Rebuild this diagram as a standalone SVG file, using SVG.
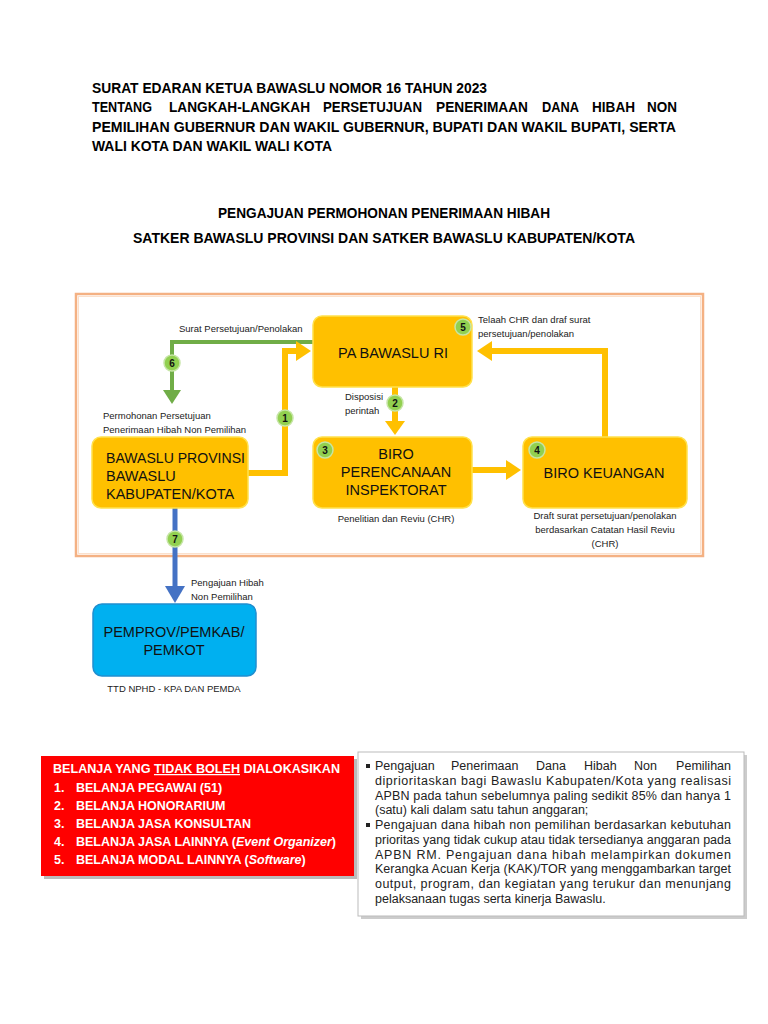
<svg xmlns="http://www.w3.org/2000/svg" width="768" height="1024" viewBox="0 0 768 1024">
<style>
.tb{font-family:"Liberation Sans",Arial,sans-serif;font-weight:bold;font-size:14px;fill:#000}
.lbl{font-family:"Liberation Sans",Arial,sans-serif;font-size:9.5px;fill:#222}
.node{fill:#FFC000;stroke:#FFE14D;stroke-width:1.5}
.nt{font-family:"Liberation Sans",Arial,sans-serif;font-size:14.5px;fill:#111}
.num{fill:#92D050;stroke:#C6E5A6;stroke-width:1.5}
.nn{font-family:"Liberation Sans",Arial,sans-serif;font-size:10px;font-weight:bold;fill:#111;text-anchor:middle}
.org{fill:none;stroke:#FFC000;stroke-width:6}
.rw{font-family:"Liberation Sans",Arial,sans-serif;font-size:12.5px;font-weight:bold;fill:#fff}
.bt{font-family:"Liberation Sans",Arial,sans-serif;font-size:12.5px;fill:#222}
</style>
<rect width="768" height="1024" fill="#fff"/>
<g id="title">
<text class="tb" x="92" y="93" textLength="395" lengthAdjust="spacingAndGlyphs">SURAT EDARAN KETUA BAWASLU NOMOR 16 TAHUN 2023</text>
<text class="tb" x="92" y="112" textLength="60" lengthAdjust="spacingAndGlyphs">TENTANG</text>
<text class="tb" x="169" y="112" textLength="141" lengthAdjust="spacingAndGlyphs">LANGKAH-LANGKAH</text>
<text class="tb" x="323" y="112" textLength="99" lengthAdjust="spacingAndGlyphs">PERSETUJUAN</text>
<text class="tb" x="436" y="112" textLength="92" lengthAdjust="spacingAndGlyphs">PENERIMAAN</text>
<text class="tb" x="542" y="112" textLength="37" lengthAdjust="spacingAndGlyphs">DANA</text>
<text class="tb" x="592" y="112" textLength="43" lengthAdjust="spacingAndGlyphs">HIBAH</text>
<text class="tb" x="647" y="112" textLength="30" lengthAdjust="spacingAndGlyphs">NON</text>
<text class="tb" x="92" y="132" textLength="584" lengthAdjust="spacingAndGlyphs">PEMILIHAN GUBERNUR DAN WAKIL GUBERNUR, BUPATI DAN WAKIL BUPATI, SERTA</text>
<text class="tb" x="92" y="151" textLength="240" lengthAdjust="spacingAndGlyphs">WALI KOTA DAN WAKIL WALI KOTA</text>
<text class="tb" x="384" y="218" text-anchor="middle" textLength="332" lengthAdjust="spacingAndGlyphs">PENGAJUAN PERMOHONAN PENERIMAAN HIBAH</text>
<text class="tb" x="384" y="243" text-anchor="middle" textLength="502" lengthAdjust="spacingAndGlyphs">SATKER BAWASLU PROVINSI DAN SATKER BAWASLU KABUPATEN/KOTA</text>
</g>
<rect x="76" y="294" width="627" height="262" fill="#fff" stroke="#F4B183" stroke-width="2.5"/>
<rect x="78.5" y="296.5" width="622" height="257" fill="none" stroke="#FBE0CC" stroke-width="1"/>
<g id="connectors">
<polyline points="313,342 172,342 172,392" fill="none" stroke="#70AD47" stroke-width="4"/>
<polygon points="163,390 181,390 172,404" fill="#70AD47"/>
<polyline class="org" points="248,473 285,473 285,351 298,351"/>
<polygon points="296,341 296,361 311,351" fill="#FFC000"/>
<line class="org" x1="395" y1="387" x2="395" y2="422"/>
<polygon points="385,421 405,421 395,435" fill="#FFC000"/>
<line class="org" x1="472" y1="470" x2="508" y2="470"/>
<polygon points="506,460 506,480 521,470" fill="#FFC000"/>
<polyline class="org" points="605,437 605,351 490,351"/>
<polygon points="492,341 492,361 477,351" fill="#FFC000"/>
<line x1="175" y1="508" x2="175" y2="588" stroke="#4472C4" stroke-width="5"/>
<polygon points="165,586 185,586 175,603" fill="#4472C4"/>
</g>
<g id="labels">
<text class="lbl" x="179" y="332">Surat Persetujuan/Penolakan</text>
<text class="lbl" x="103" y="419">Permohonan Persetujuan</text>
<text class="lbl" x="103" y="433">Penerimaan Hibah Non Pemilihan</text>
<text class="lbl" x="478" y="323">Telaah CHR dan draf surat</text>
<text class="lbl" x="478" y="337">persetujuan/penolakan</text>
<text class="lbl" x="345" y="400">Disposisi</text>
<text class="lbl" x="345" y="414">perintah</text>
<text class="lbl" x="396" y="522" text-anchor="middle">Penelitian dan Reviu (CHR)</text>
<text class="lbl" x="605" y="519" text-anchor="middle">Draft surat persetujuan/penolakan</text>
<text class="lbl" x="605" y="533" text-anchor="middle">berdasarkan Catatan Hasil Reviu</text>
<text class="lbl" x="605" y="547" text-anchor="middle">(CHR)</text>
<text class="lbl" x="191" y="586">Pengajuan Hibah</text>
<text class="lbl" x="191" y="600">Non Pemilihan</text>
<text class="lbl" x="174" y="692" text-anchor="middle">TTD NPHD - KPA DAN PEMDA</text>
</g>
<g id="pa-bawaslu-ri">
<rect class="node" x="313" y="316" width="159" height="71" rx="9"/>
<text class="nt" x="393" y="358" text-anchor="middle">PA BAWASLU RI</text>
</g>
<g id="bawaslu-provinsi">
<rect class="node" x="92" y="437" width="156" height="71" rx="9"/>
<text class="nt" x="106" y="463" textLength="139" lengthAdjust="spacingAndGlyphs">BAWASLU PROVINSI</text>
<text class="nt" x="106" y="481">BAWASLU</text>
<text class="nt" x="106" y="499">KABUPATEN/KOTA</text>
</g>
<g id="biro-perencanaan">
<rect class="node" x="313" y="437" width="159" height="71" rx="9"/>
<text class="nt" x="396" y="459" text-anchor="middle">BIRO</text>
<text class="nt" x="396" y="477" text-anchor="middle">PERENCANAAN</text>
<text class="nt" x="396" y="495" text-anchor="middle">INSPEKTORAT</text>
</g>
<g id="biro-keuangan">
<rect class="node" x="523" y="437" width="164" height="71" rx="9"/>
<text class="nt" x="604" y="478" text-anchor="middle">BIRO KEUANGAN</text>
</g>
<g id="pemprov">
<rect x="93" y="604" width="163" height="72" rx="9" fill="#00B0F0" stroke="#1F8FD0" stroke-width="1.5"/>
<text class="nt" x="174" y="637" text-anchor="middle">PEMPROV/PEMKAB/</text>
<text class="nt" x="174" y="655" text-anchor="middle">PEMKOT</text>
</g>
<g id="steps">
<circle class="num" cx="285" cy="418" r="8"/><text class="nn" x="285" y="422">1</text>
<circle class="num" cx="395" cy="403" r="8"/><text class="nn" x="395" y="407">2</text>
<circle class="num" cx="325" cy="450" r="8"/><text class="nn" x="325" y="454">3</text>
<circle class="num" cx="537" cy="450" r="8"/><text class="nn" x="537" y="454">4</text>
<circle class="num" cx="463" cy="327" r="8"/><text class="nn" x="463" y="331">5</text>
<circle class="num" cx="172" cy="363" r="8"/><text class="nn" x="172" y="367">6</text>
<circle class="num" cx="175" cy="539" r="8"/><text class="nn" x="175" y="543">7</text>
</g>
<g id="belanja">
<rect x="44" y="759" width="313" height="120" fill="#bbb"/>
<rect x="41" y="756" width="313" height="120" fill="#FF0000"/>
<text class="rw" x="53" y="773" textLength="287" lengthAdjust="spacingAndGlyphs">BELANJA YANG <tspan text-decoration="underline">TIDAK BOLEH</tspan> DIALOKASIKAN</text>
<text class="rw" x="54" y="792">1.</text><text class="rw" x="76" y="792">BELANJA PEGAWAI (51)</text>
<text class="rw" x="54" y="810">2.</text><text class="rw" x="76" y="810">BELANJA HONORARIUM</text>
<text class="rw" x="54" y="828">3.</text><text class="rw" x="76" y="828">BELANJA JASA KONSULTAN</text>
<text class="rw" x="54" y="846">4.</text><text class="rw" x="76" y="846">BELANJA JASA LAINNYA (<tspan font-style="italic">Event Organizer</tspan>)</text>
<text class="rw" x="54" y="864">5.</text><text class="rw" x="76" y="864">BELANJA MODAL LAINNYA (<tspan font-style="italic">Software</tspan>)</text>
</g>
<g id="catatan">
<rect x="361" y="755" width="386" height="164" fill="#ccc"/>
<rect x="358" y="752" width="386" height="164" fill="#fff" stroke="#bbb" stroke-width="1"/>
<rect x="366" y="764" width="4" height="4" fill="#222"/>
<rect x="366" y="823" width="4" height="4" fill="#222"/>
<text class="bt" x="375" y="770">Pengajuan</text>
<text class="bt" x="451" y="770">Penerimaan</text>
<text class="bt" x="536" y="770">Dana</text>
<text class="bt" x="584" y="770">Hibah</text>
<text class="bt" x="634" y="770">Non</text>
<text class="bt" x="731" y="770" text-anchor="end">Pemilihan</text>
<text class="bt" x="375" y="785" textLength="356" lengthAdjust="spacing">diprioritaskan bagi Bawaslu Kabupaten/Kota yang realisasi</text>
<text class="bt" x="375" y="800" textLength="356" lengthAdjust="spacing">APBN pada tahun sebelumnya paling sedikit 85% dan hanya 1</text>
<text class="bt" x="375" y="814">(satu) kali dalam satu tahun anggaran;</text>
<text class="bt" x="375" y="829" textLength="356" lengthAdjust="spacing">Pengajuan dana hibah non pemilihan berdasarkan kebutuhan</text>
<text class="bt" x="375" y="844" textLength="356" lengthAdjust="spacing">prioritas yang tidak cukup atau tidak tersedianya anggaran pada</text>
<text class="bt" x="375" y="859" textLength="356" lengthAdjust="spacing">APBN RM. Pengajuan dana hibah melampirkan dokumen</text>
<text class="bt" x="375" y="873" textLength="356" lengthAdjust="spacing">Kerangka Acuan Kerja (KAK)/TOR yang menggambarkan target</text>
<text class="bt" x="375" y="888" textLength="356" lengthAdjust="spacing">output, program, dan kegiatan yang terukur dan menunjang</text>
<text class="bt" x="375" y="903">pelaksanaan tugas serta kinerja Bawaslu.</text>
</g>
</svg>
